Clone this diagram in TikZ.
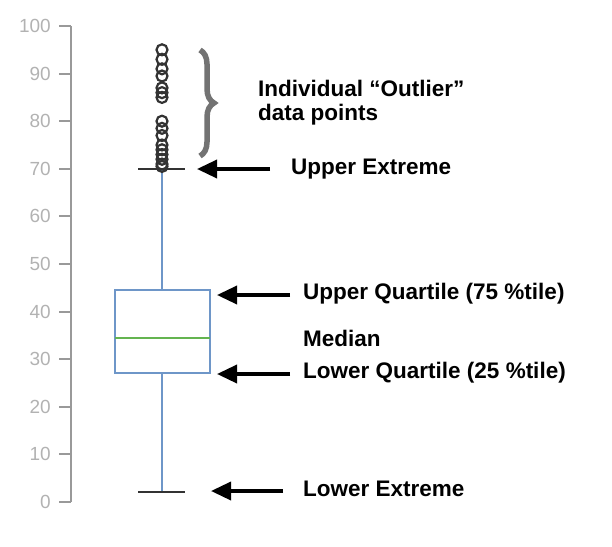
\documentclass[tikz,border=0pt]{standalone}
\usepackage{fontspec}
\setmainfont{Liberation Sans}
\usetikzlibrary{decorations.pathreplacing,arrows.meta}
\definecolor{boxc}{RGB}{110,150,200}
\definecolor{medc}{RGB}{100,180,80}
\begin{document}
\begin{tikzpicture}[x=1pt,y=-1pt,
  lbl/.style={anchor=west,font=\bfseries\fontsize{22.5}{25}\selectfont,inner sep=0pt},
  tick/.style={anchor=east,text=gray!60,font=\fontsize{19}{21}\selectfont,inner sep=0pt},
  arr/.style={-{Triangle[length=20pt,width=18pt]},line width=3.5pt},
  bl/.style={draw=boxc,line width=2pt},
  outl/.style={circle,draw=black!80,line width=2.2pt,minimum size=11pt,inner sep=0pt}]
\useasboundingbox (0,0) rectangle (612,546);
\def\Y#1{502-4.76*#1}
% axis
\draw[gray!80,line width=2pt] (71,{\Y{0}}) -- (71,{\Y{100}});
\foreach \v in {0,10,...,100}{
  \draw[gray!80,line width=2pt] (59,{\Y{\v}}) -- (71,{\Y{\v}});
  \node[tick] at (51,{\Y{\v}}) {\v};}
% whiskers
\draw[bl] (162,{\Y{70}}) -- (162,{\Y{44.5}});
\draw[bl] (162,{\Y{27}}) -- (162,{\Y{2}});
\draw[line width=2pt,black!80] (138,{\Y{70}}) -- (185,{\Y{70}});
\draw[line width=2pt,black!80] (138,{\Y{2}}) -- (185,{\Y{2}});
\draw[bl,fill=white] (115,{\Y{27}}) rectangle (210,{\Y{44.5}});
\draw[medc,line width=2pt] (115,{\Y{34.5}}) -- (210,{\Y{34.5}});
% outliers
\foreach \v in {70.5,71,72,73,74,75,77,78.5,80,85,86,87,89.5,91,93,95}
  \node[outl] at (162,{\Y{\v}}) {};
% brace
\draw[decorate,decoration={brace,amplitude=14pt},line width=5.5pt,gray!90!black] (200,50) -- (200,156);
% labels
\node[lbl] (o1) at (258,88) {Individual “Outlier”};
\node[lbl] (o2) at (258,115) {data points};
\node[lbl] (ue) at (291,169) {Upper Extreme};
\node[lbl] (uq) at (303,294) {Upper Quartile (75 \%tile)};
\node[lbl] (md) at (303,338) {Median};
\node[lbl] (lq) at (303,373) {Lower Quartile (25 \%tile)};
\node[lbl] (le) at (303,489) {Lower Extreme};
\coordinate (a1) at (270,169); \coordinate (b1) at (197,169);
\coordinate (a2) at (290,295); \coordinate (b2) at (217,295);
\coordinate (a3) at (290,374); \coordinate (b3) at (217,374);
\coordinate (a4) at (283,491); \coordinate (b4) at (211,491);
\foreach \i in {1,2,3,4} \draw[arr] (a\i) -- (b\i);
\end{tikzpicture}
\end{document}
